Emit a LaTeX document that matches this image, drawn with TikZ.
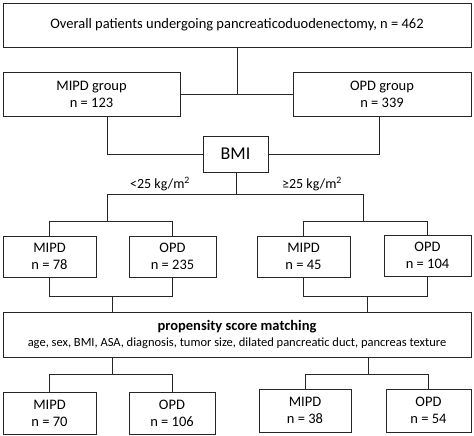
\documentclass[tikz,border=0pt]{standalone}
\usepackage{fontspec}
\setmainfont{Carlito}
\begin{document}
\begin{tikzpicture}[x=1pt,y=-1pt,
  box/.style={draw=black!85,line width=0.9pt,fill=white,inner sep=0pt,align=flush center,font=\fontsize{14.5}{17}\selectfont},
  conn/.style={draw=black!85,line width=0.9pt},
  lbl/.style={font=\fontsize{14}{16}\selectfont,inner sep=0pt}]
\useasboundingbox (0,0) rectangle (474,436);
% boxes
\node[box,text width=468pt,minimum height=44pt] (top) at (237,25) {Overall patients undergoing pancreaticoduodenectomy, n = 462};
\node[box,text width=177pt,minimum height=44pt] (mg) at (91.5,94) {MIPD group\\n = 123};
\node[box,text width=178pt,minimum height=44pt] (og) at (382,94) {OPD group\\n = 339};
\node[box,text width=65pt,minimum height=36pt,font=\fontsize{18}{20}\selectfont] (bmi) at (235.5,154) {BMI};
\node[box,text width=93pt,minimum height=41pt] (b1) at (49.5,256.5) {MIPD\\n = 78};
\node[box,text width=87pt,minimum height=41pt] (b2) at (172.5,256.5) {OPD\\n = 235};
\node[box,text width=93pt,minimum height=41pt] (b3) at (303.5,256.5) {MIPD\\n = 45};
\node[box,text width=87pt,minimum height=41pt] (b4) at (427.5,255.5) {OPD\\n = 104};
\node[box,text width=468pt,minimum height=45pt] (psm) at (237,334.5) {{\bfseries propensity score matching}\\[-1pt]{\fontsize{12.5}{15}\selectfont age, sex, BMI, ASA, diagnosis, tumor size, dilated pancreatic duct, pancreas texture}};
\node[box,text width=93pt,minimum height=42pt] (c1) at (49.5,413) {MIPD\\n = 70};
\node[box,text width=86pt,minimum height=42pt] (c2) at (172,413) {OPD\\n = 106};
\node[box,text width=92pt,minimum height=43pt] (c3) at (305,410.5) {MIPD\\n = 38};
\node[box,text width=85pt,minimum height=43pt] (c4) at (428.5,410.5) {OPD\\n = 54};
% labels
\node[lbl] (l1) at (160,184) {<25 kg/m\textsuperscript{2}};
\node[lbl] (l2) at (312,184) {≥25 kg/m\textsuperscript{2}};
% junction coordinates
\coordinate (j1) at (107,154);
\coordinate (j2) at (379,154);
\coordinate (j3) at (236,194);
\coordinate (jl) at (107,194);
\coordinate (jr) at (363,194);
\coordinate (kl) at (107,221);
\coordinate (kr) at (363,221);
\coordinate (ml) at (112,296);
\coordinate (mr) at (367,296);
\coordinate (nl) at (112,374);
\coordinate (nr) at (368,374);
% connectors
\draw[conn] (top.south) -- (top.south |- mg.east);
\draw[conn] (mg.east) -- (og.west);
\draw[conn] (mg.south -| j1) -- (j1) -- (bmi.west);
\draw[conn] (og.south -| j2) -- (j2) -- (bmi.east);
\draw[conn] (bmi.south -| j3) -- (j3);
\draw[conn] (jl) -- (jr);
\draw[conn] (jl) -- (kl);
\draw[conn] (jr) -- (kr);
\draw[conn] (b1.north) -- (b1.north |- kl) -- (b2.north |- kl) -- (b2.north);
\draw[conn] (b3.north) -- (b3.north |- kr) -- (b4.north |- kr) -- (b4.north);
\draw[conn] (b1.south) -- (b1.south |- ml) -- (b2.south |- ml) -- (b2.south);
\draw[conn] (b3.south) -- (b3.south |- mr) -- (b4.south |- mr) -- (b4.south);
\draw[conn] (ml) -- (psm.north -| ml);
\draw[conn] (mr) -- (psm.north -| mr);
\draw[conn] (psm.south -| nl) -- (nl);
\draw[conn] (psm.south -| nr) -- (nr);
\draw[conn] (c1.north) -- (c1.north |- nl) -- (c2.north |- nl) -- (c2.north);
\draw[conn] (c3.north) -- (c3.north |- nr) -- (c4.north |- nr) -- (c4.north);
\end{tikzpicture}
\end{document}
